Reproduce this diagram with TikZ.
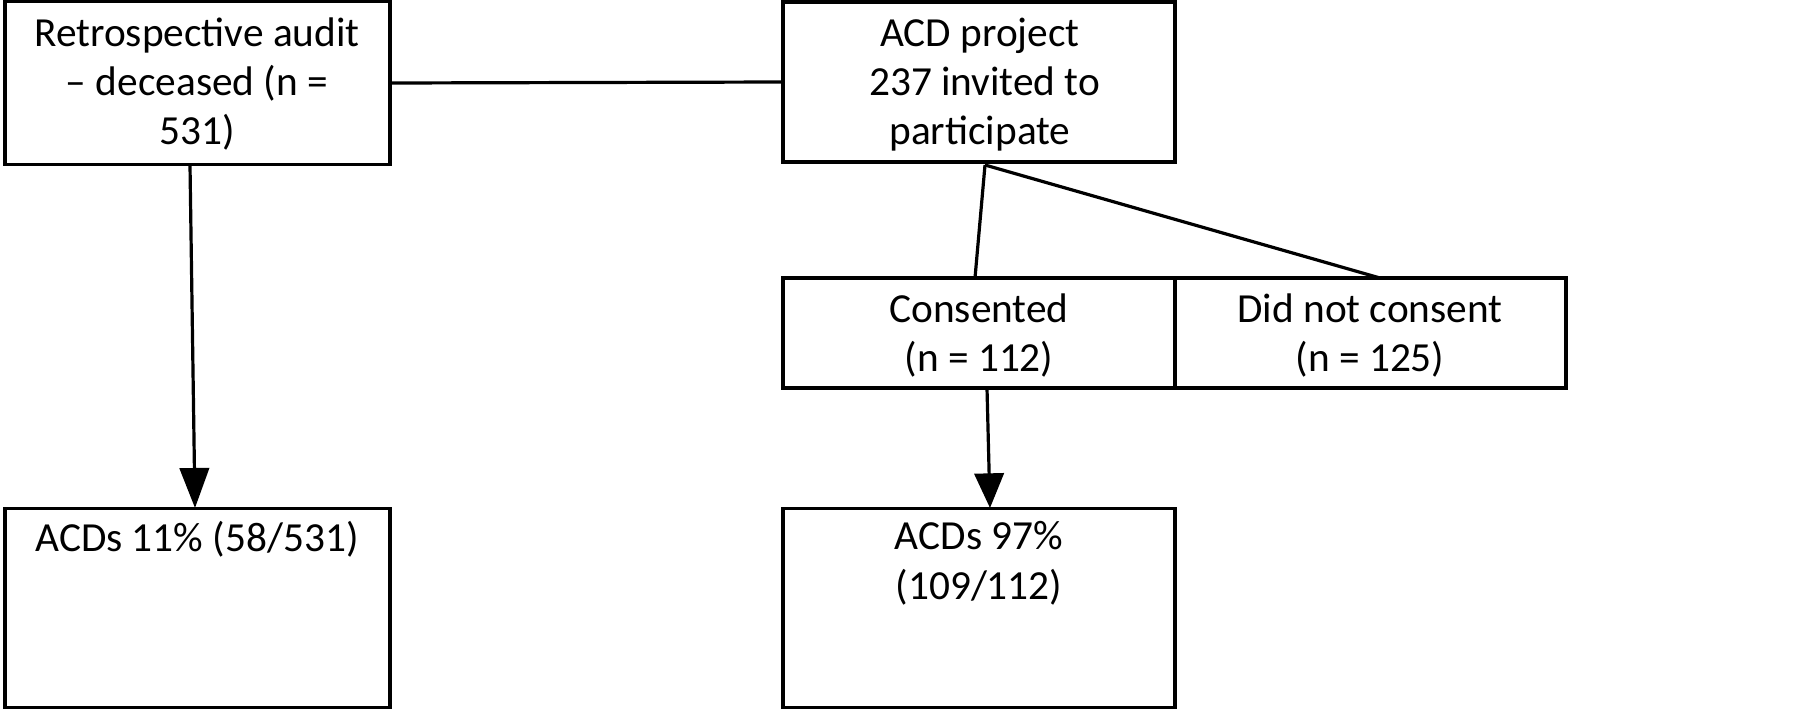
\documentclass[tikz,border=0pt]{standalone}
\usepackage{fontspec}
\setmainfont{Carlito}
\usetikzlibrary{arrows.meta}
\tikzset{every picture/.style={line width=2.4pt}}
\tikzset{box/.style={draw,line width=2.4pt,inner sep=0pt},
  lbl/.style={align=center,font=\fontsize{31}{37}\selectfont,inner sep=0pt,anchor=north}}
\begin{document}
\begin{tikzpicture}[x=0.75pt,y=0.75pt,yscale=-1,xscale=1]
	\useasboundingbox (0,0) rectangle (1800,711);

	% Boxes
	\node [box,minimum width=385*0.75pt,minimum height=163*0.75pt] (retro) at (197.5,83) {};
	\node [box,minimum width=392*0.75pt,minimum height=160*0.75pt] (acd) at (979,82) {};
	\node [box,minimum width=392*0.75pt,minimum height=110*0.75pt] (cons) at (979,333) {};
	\node [box,minimum width=391*0.75pt,minimum height=110*0.75pt] (nocons) at (1370.5,333) {};
	\node [box,minimum width=385*0.75pt,minimum height=199*0.75pt] (acdl) at (197.5,608) {};
	\node [box,minimum width=392*0.75pt,minimum height=199*0.75pt] (acdr) at (979,608) {};

	% Connectors
	\coordinate (split) at (985,165);
	\coordinate (retrob) at (190,165);
	\coordinate (consb) at (987,388);
	\draw (retro.east) -- (acd.west);
	\draw (split) -- (975,278);
	\draw (split) -- (1380,278);
	\draw [-{Triangle[length=30pt,width=22pt]}] (retrob) -- (195,508);
	\draw [-{Triangle[length=26pt,width=22pt]}] (consb) -- (990,508);

	% Text Node
	\node [lbl] (t1) at (197,16) {Retrospective audit\\ -- deceased (n =\\ 531)};
	\node [lbl] (t2) at (980,16) {ACD project\\ \ 237 invited to\\ participate};
	\node [lbl] (t3) at (979,292) {Consented\\ (n = 112)};
	\node [lbl] (t4) at (1370,292) {Did not consent\\ (n = 125)};
	\node [lbl] (t5) at (197,520) {ACDs 11\% (58/531)};
	\node [lbl] (t6) at (979,520) {ACDs 97\%\\ (109/112)};
\end{tikzpicture}
\end{document}
